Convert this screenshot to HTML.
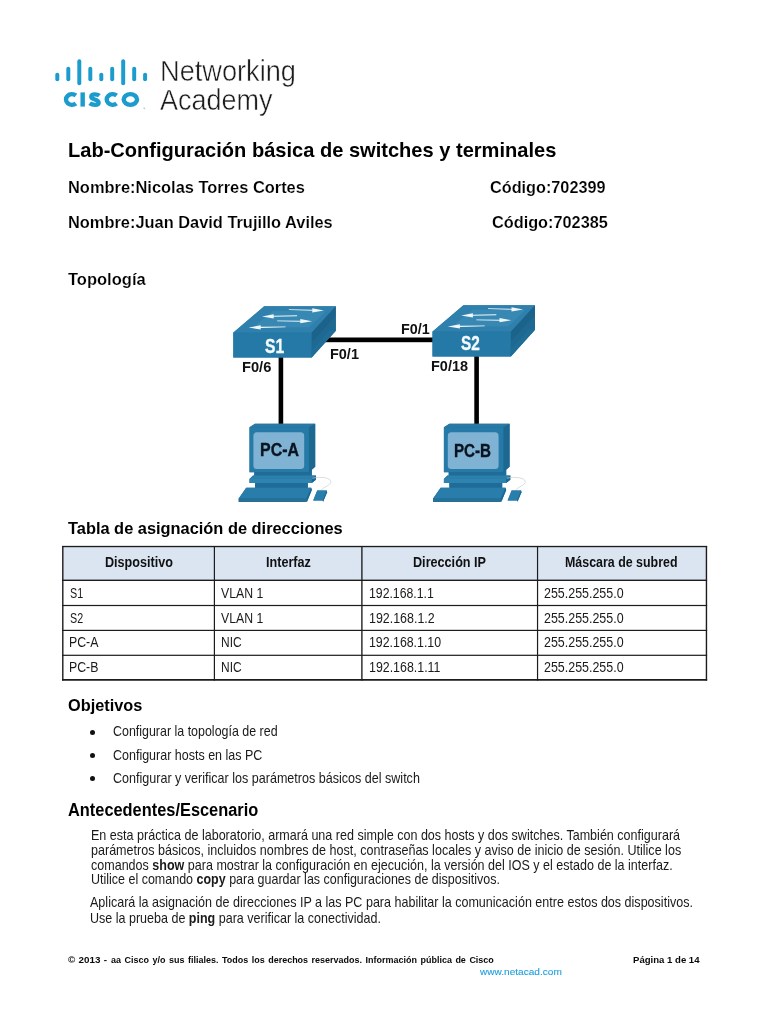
<!DOCTYPE html>
<html lang="es">
<head>
<meta charset="utf-8">
<title>Lab-Configuración básica de switches y terminales</title>
<style>
html,body{margin:0;padding:0;background:#fff;}
body{width:768px;height:1024px;overflow:hidden;font-family:"Liberation Sans",sans-serif;}
#pg{will-change:transform;position:relative;width:768px;height:1024px;overflow:hidden;background:#fff;}
.t{position:absolute;white-space:nowrap;transform-origin:0 0;display:block;}
.t b{font-weight:700;}
svg{position:absolute;left:0;top:0;}
.hl{position:absolute;background:#1c1c1e;}
</style>
</head>
<body>
<div id="pg">
<svg width="768" height="130" viewBox="0 0 768 130">
<g stroke="#1c9bcd" stroke-width="3.95" stroke-linecap="round" fill="none">
<line x1="57.3" y1="74.6" x2="57.3" y2="79.2"/>
<line x1="68.3" y1="68.8" x2="68.3" y2="79.2"/>
<line x1="79.3" y1="61.3" x2="79.3" y2="83.2"/>
<line x1="90.3" y1="68.8" x2="90.3" y2="79.2"/>
<line x1="101.3" y1="74.6" x2="101.3" y2="79.2"/>
<line x1="112.2" y1="68.8" x2="112.2" y2="79.2"/>
<line x1="123.2" y1="61.3" x2="123.2" y2="83.2"/>
<line x1="134.2" y1="68.8" x2="134.2" y2="79.2"/>
<line x1="145.1" y1="74.6" x2="145.1" y2="79.2"/>
</g>
<g stroke="#1c9bcd" stroke-width="4.3" fill="none" stroke-linecap="butt" transform="translate(102 -0.6) scale(1.028 1) translate(-102 0)">
<path d="M76.6 96.1 A5.8 5.3 0 1 0 76.6 104.1"/>
<line x1="83.2" y1="93.0" x2="83.2" y2="107.2"/>
<path d="M99.4 96.2 C97.6 94.8 92.0 94.0 91.6 97.1 C91.2 100.8 98.9 99.4 98.7 103.4 C98.5 106.3 92.6 105.8 90.0 103.9"/>
<path d="M116.2 96.1 A5.8 5.3 0 1 0 116.2 104.1"/>
<ellipse cx="129.6" cy="100.1" rx="6.5" ry="5.3"/>
</g>
<circle cx="144.3" cy="108.3" r="0.9" fill="#9fd3ea"/>
</svg>
<svg width="768" height="520" viewBox="0 0 768 520">
<rect x="322" y="337.5" width="112" height="4.7" fill="#000"/>
<rect x="278.6" y="356" width="4.6" height="68" fill="#000"/>
<rect x="474.3" y="355" width="4.6" height="69" fill="#000"/>
<g transform="translate(233.3 306.3)">
<polygon points="0,26.2 30.9,0 102.5,0 102.5,24.5 78.4,51.2 0,51.2" fill="#2679a6"/>
<polygon points="0,26.4 30.9,0 102.5,0 78.6,26.4" fill="#2f80ad"/>
<polygon points="20,21 40,4.5 93,4.5 76,21" fill="#4a9ac5" opacity="0.32"/>
<rect x="0" y="26.2" width="78.4" height="25" fill="#2479a6"/>
<polygon points="78.4,26.2 102.5,0 102.5,24.5 78.4,51.2" fill="#1b638b"/>
<polygon points="78.4,36 102.5,10 102.5,24.5 78.4,51.2" fill="#2a7eab" opacity="0.22"/>
<polygon points="78.4,44 96,24.5 102.5,24.5 78.4,51.2" fill="#2a7eab" opacity="0.22"/>
<g fill="#fff" opacity="0.93">
<polygon points="55.5,2.9 79,3.4 79,1.9 90.6,4.1 79,6.1 79,4.4 55.5,3.7"/>
<polygon points="28.6,10.1 40.4,7.9 40.4,9.4 63.8,9.0 63.8,9.9 40.4,10.5 40.4,12.1"/>
<polygon points="43.8,14.2 67,14.4 67,12.8 78.8,14.9 67,17 67,15.4 43.8,15.0"/>
<polygon points="15.3,21.3 27.4,19 27.4,20.5 52.2,20.1 52.2,21 27.4,21.6 27.4,23.3"/>
</g>
</g>
<g transform="translate(432.5 305.3)">
<polygon points="0,26.2 30.9,0 102.5,0 102.5,24.5 78.4,51.2 0,51.2" fill="#2679a6"/>
<polygon points="0,26.4 30.9,0 102.5,0 78.6,26.4" fill="#2f80ad"/>
<polygon points="20,21 40,4.5 93,4.5 76,21" fill="#4a9ac5" opacity="0.32"/>
<rect x="0" y="26.2" width="78.4" height="25" fill="#2479a6"/>
<polygon points="78.4,26.2 102.5,0 102.5,24.5 78.4,51.2" fill="#1b638b"/>
<polygon points="78.4,36 102.5,10 102.5,24.5 78.4,51.2" fill="#2a7eab" opacity="0.22"/>
<polygon points="78.4,44 96,24.5 102.5,24.5 78.4,51.2" fill="#2a7eab" opacity="0.22"/>
<g fill="#fff" opacity="0.93">
<polygon points="55.5,2.9 79,3.4 79,1.9 90.6,4.1 79,6.1 79,4.4 55.5,3.7"/>
<polygon points="28.6,10.1 40.4,7.9 40.4,9.4 63.8,9.0 63.8,9.9 40.4,10.5 40.4,12.1"/>
<polygon points="43.8,14.2 67,14.4 67,12.8 78.8,14.9 67,17 67,15.4 43.8,15.0"/>
<polygon points="15.3,21.3 27.4,19 27.4,20.5 52.2,20.1 52.2,21 27.4,21.6 27.4,23.3"/>
</g>
</g>
<g transform="translate(249.5 423.3)">
<polygon points="0,4 5.5,0.4 65.7,0.4 65.7,43.4 62.3,46.4 62.3,52.2 66.4,52.2 66.4,56.4 62.3,59.7 58.3,59.7 58.3,64.4 61.7,64.4 62.3,66.8 57.5,78.4 -10.8,78.6 -10.8,75.3 -3.3,64.4 5.5,64.4 5.5,59.7 0,59.7 0,55.6 3.5,52.2 4.8,52.2 4.8,48.9 0,48.9" fill="#23729e"/>
<polygon points="0,4 5.5,0.4 65.7,0.4 59.4,4" fill="#2a79a4"/>
<polygon points="59.4,4 65.7,0.4 65.7,43.4 59.4,48.9" fill="#1c6891"/>
<rect x="0" y="4" width="59.4" height="44.9" fill="#267aa7"/>
<rect x="3.9" y="9" width="50.8" height="36.7" rx="3.6" ry="3.6" fill="#7fb2d3"/>
<polygon points="4.8,48.9 59.4,48.9 62.3,46.4 62.3,52.2 4.8,52.2" fill="#1e6c97"/>
<polygon points="0,55.6 3.5,52.2 66.4,52.2 62.3,55.6" fill="#2b7faa"/>
<rect x="0" y="55.6" width="62.3" height="4.1" fill="#2e84b1"/>
<polygon points="62.3,55.6 66.4,52.2 66.4,56.4 62.3,59.7" fill="#1c6891"/>
<rect x="5.5" y="59.7" width="52.8" height="4.7" fill="#1e6c97"/>
<polygon points="-3.3,64.4 61.7,64.4 56.9,75.3 -10.8,75.3" fill="#297dab"/>
<polygon points="-10.8,75 56.9,75 56.9,78.6 -10.8,78.6" fill="#256f99"/>
<polygon points="61.7,64.4 62.3,66.8 57.5,78.4 56.9,75.3" fill="#1c6891"/>
<polygon points="67.7,67.1 77.2,67.1 77.6,69 73.6,78.4 73.2,77.2 63.7,77.2" fill="#23729e"/>
<polygon points="67.7,67.1 77.2,67.1 73.2,77.2 63.7,77.2" fill="#2a7eab"/>
<polygon points="77.2,67.1 77.6,69 73.6,78.4 73.2,77.2" fill="#1c6891"/>
<path d="M63 54.9 C70 53.3 80.5 54 81.3 58 C82 62 74 63.5 71.8 66.6" stroke="#c9ced3" stroke-width="0.7" fill="none"/>
</g>
<g transform="translate(443.9 423.3)">
<polygon points="0,4 5.5,0.4 65.7,0.4 65.7,43.4 62.3,46.4 62.3,52.2 66.4,52.2 66.4,56.4 62.3,59.7 58.3,59.7 58.3,64.4 61.7,64.4 62.3,66.8 57.5,78.4 -10.8,78.6 -10.8,75.3 -3.3,64.4 5.5,64.4 5.5,59.7 0,59.7 0,55.6 3.5,52.2 4.8,52.2 4.8,48.9 0,48.9" fill="#23729e"/>
<polygon points="0,4 5.5,0.4 65.7,0.4 59.4,4" fill="#2a79a4"/>
<polygon points="59.4,4 65.7,0.4 65.7,43.4 59.4,48.9" fill="#1c6891"/>
<rect x="0" y="4" width="59.4" height="44.9" fill="#267aa7"/>
<rect x="3.9" y="9" width="50.8" height="36.7" rx="3.6" ry="3.6" fill="#7fb2d3"/>
<polygon points="4.8,48.9 59.4,48.9 62.3,46.4 62.3,52.2 4.8,52.2" fill="#1e6c97"/>
<polygon points="0,55.6 3.5,52.2 66.4,52.2 62.3,55.6" fill="#2b7faa"/>
<rect x="0" y="55.6" width="62.3" height="4.1" fill="#2e84b1"/>
<polygon points="62.3,55.6 66.4,52.2 66.4,56.4 62.3,59.7" fill="#1c6891"/>
<rect x="5.5" y="59.7" width="52.8" height="4.7" fill="#1e6c97"/>
<polygon points="-3.3,64.4 61.7,64.4 56.9,75.3 -10.8,75.3" fill="#297dab"/>
<polygon points="-10.8,75 56.9,75 56.9,78.6 -10.8,78.6" fill="#256f99"/>
<polygon points="61.7,64.4 62.3,66.8 57.5,78.4 56.9,75.3" fill="#1c6891"/>
<polygon points="67.7,67.1 77.2,67.1 77.6,69 73.6,78.4 73.2,77.2 63.7,77.2" fill="#23729e"/>
<polygon points="67.7,67.1 77.2,67.1 73.2,77.2 63.7,77.2" fill="#2a7eab"/>
<polygon points="77.2,67.1 77.6,69 73.6,78.4 73.2,77.2" fill="#1c6891"/>
<path d="M63 54.9 C70 53.3 80.5 54 81.3 58 C82 62 74 63.5 71.8 66.6" stroke="#c9ced3" stroke-width="0.7" fill="none"/>
</g>
</svg>
<span class="t" style="left:67.50px;top:140.23px;font-size:20.4px;line-height:20.4px;font-weight:700;color:#000;transform:scaleX(0.9839)">Lab-Configuración básica de switches y terminales</span>
<span class="t" style="left:67.50px;top:179.76px;font-size:16px;line-height:16px;font-weight:700;color:#000;-webkit-text-stroke:0.15px #fff;transform:scaleX(1.0260)">Nombre:Nicolas Torres Cortes</span>
<span class="t" style="left:490.00px;top:179.76px;font-size:16px;line-height:16px;font-weight:700;color:#000;-webkit-text-stroke:0.15px #fff;transform:scaleX(1.0149)">Código:702399</span>
<span class="t" style="left:67.50px;top:214.76px;font-size:16px;line-height:16px;font-weight:700;color:#000;-webkit-text-stroke:0.15px #fff;transform:scaleX(1.0244)">Nombre:Juan David Trujillo Aviles</span>
<span class="t" style="left:492.00px;top:214.76px;font-size:16px;line-height:16px;font-weight:700;color:#000;-webkit-text-stroke:0.15px #fff;transform:scaleX(1.0175)">Código:702385</span>
<span class="t" style="left:67.50px;top:272.46px;font-size:16px;line-height:16px;font-weight:700;color:#000;-webkit-text-stroke:0.15px #fff;transform:scaleX(1.0320)">Topología</span>
<span class="t" style="left:67.50px;top:519.64px;font-size:17.2px;line-height:17.2px;font-weight:700;color:#000;transform:scaleX(0.9531)">Tabla de asignación de direcciones</span>
<span class="t" style="left:67.50px;top:696.84px;font-size:17.2px;line-height:17.2px;font-weight:700;color:#000;transform:scaleX(0.9487)">Objetivos</span>
<span class="t" style="left:113.00px;top:723.64px;font-size:14.6px;line-height:14.6px;color:#1a1a1a;transform:scaleX(0.8523)">Configurar la topología de red</span>
<span class="t" style="left:113.00px;top:748.14px;font-size:14.6px;line-height:14.6px;color:#1a1a1a;transform:scaleX(0.8563)">Configurar hosts en las PC</span>
<span class="t" style="left:113.00px;top:770.64px;font-size:14.6px;line-height:14.6px;color:#1a1a1a;transform:scaleX(0.8599)">Configurar y verificar los parámetros básicos del switch</span>
<span class="t" style="left:67.50px;top:801.99px;font-size:17.5px;line-height:17.5px;font-weight:700;color:#000;transform:scaleX(0.9360)">Antecedentes/Escenario</span>
<span class="t" style="left:90.50px;top:828.18px;font-size:14.2px;line-height:14.2px;color:#1a1a1a;transform:scaleX(0.8844)">En esta práctica de laboratorio, armará una red simple con dos hosts y dos switches. También configurará</span>
<span class="t" style="left:90.50px;top:843.18px;font-size:14.2px;line-height:14.2px;color:#1a1a1a;transform:scaleX(0.8846)">parámetros básicos, incluidos nombres de host, contraseñas locales y aviso de inicio de sesión. Utilice los</span>
<span class="t" style="left:90.50px;top:857.58px;font-size:14.2px;line-height:14.2px;color:#1a1a1a;transform:scaleX(0.8833)">comandos <b>show</b> para mostrar la configuración en ejecución, la versión del IOS y el estado de la interfaz.</span>
<span class="t" style="left:90.50px;top:871.98px;font-size:14.2px;line-height:14.2px;color:#1a1a1a;transform:scaleX(0.8802)">Utilice el comando <b>copy</b> para guardar las configuraciones de dispositivos.</span>
<span class="t" style="left:89.80px;top:895.18px;font-size:14.2px;line-height:14.2px;color:#1a1a1a;transform:scaleX(0.8842)">Aplicará la asignación de direcciones IP a las PC para habilitar la comunicación entre estos dos dispositivos.</span>
<span class="t" style="left:89.80px;top:910.68px;font-size:14.2px;line-height:14.2px;color:#1a1a1a;transform:scaleX(0.8824)">Use la prueba de <b>ping</b> para verificar la conectividad.</span>
<span class="t" style="left:67.60px;top:954.79px;font-size:9.7px;line-height:9.7px;font-weight:700;color:#0a0a0a;word-spacing:0.6px;transform:scaleX(1.0154)">© 2013 -</span>
<span class="t" style="left:110.80px;top:954.79px;font-size:9.7px;line-height:9.7px;font-weight:700;color:#0a0a0a;word-spacing:1.1px;transform:scaleX(0.9269)">aa Cisco y/o sus filiales. Todos los derechos reservados. Información pública de Cisco</span>
<span class="t" style="left:633.00px;top:954.79px;font-size:9.7px;line-height:9.7px;font-weight:700;color:#0a0a0a;transform:scaleX(0.9881)">Página 1 de 14</span>
<span class="t" style="left:479.80px;top:966.79px;font-size:9.7px;line-height:9.7px;color:#1f9fdc;-webkit-text-stroke:0.12px #1f9fdc;transform:scaleX(1.0405)">www.netacad.com</span>
<div style="position:absolute;left:63px;top:546px;width:644px;height:34px;background:#dbe5f1"></div>
<svg width="768" height="1024" viewBox="0 0 768 1024" style="pointer-events:none"><g fill="#1c1c1e"><rect x="62.10" y="545.85" width="645.05" height="1.35"/><rect x="62.10" y="679.00" width="645.05" height="1.75"/><rect x="62.10" y="579.60" width="645.00" height="1.40"/><rect x="62.10" y="604.90" width="645.00" height="1.20"/><rect x="62.10" y="629.80" width="645.00" height="1.20"/><rect x="62.10" y="654.70" width="645.00" height="1.20"/><rect x="62.10" y="546.00" width="1.40" height="134.60"/><rect x="213.80" y="546.00" width="1.20" height="134.60"/><rect x="361.22" y="546.00" width="1.35" height="134.60"/><rect x="536.95" y="546.00" width="1.20" height="134.60"/><rect x="705.75" y="546.00" width="1.40" height="134.60"/></g></svg>
<div style="position:absolute;left:90.2px;top:729.9px;width:5px;height:5px;border-radius:50%;background:#111"></div>
<div style="position:absolute;left:90.2px;top:753.3px;width:5px;height:5px;border-radius:50%;background:#111"></div>
<div style="position:absolute;left:90.2px;top:775.9px;width:5px;height:5px;border-radius:50%;background:#111"></div>
<span class="t" style="left:104.50px;top:555.28px;font-size:14.2px;line-height:14.2px;font-weight:700;color:#111;transform:scaleX(0.8882)">Dispositivo</span>
<span class="t" style="left:266.00px;top:555.28px;font-size:14.2px;line-height:14.2px;font-weight:700;color:#111;transform:scaleX(0.8900)">Interfaz</span>
<span class="t" style="left:413.00px;top:555.28px;font-size:14.2px;line-height:14.2px;font-weight:700;color:#111;transform:scaleX(0.8902)">Dirección IP</span>
<span class="t" style="left:565.30px;top:555.28px;font-size:14.2px;line-height:14.2px;font-weight:700;color:#111;transform:scaleX(0.8752)">Máscara de subred</span>
<span class="t" style="left:69.50px;top:586.25px;font-size:14.0px;line-height:14.0px;color:#1a1a1a;transform:scaleX(0.7647)">S1</span>
<span class="t" style="left:220.50px;top:586.25px;font-size:14.0px;line-height:14.0px;color:#1a1a1a;transform:scaleX(0.8750)">VLAN 1</span>
<span class="t" style="left:369.00px;top:586.25px;font-size:14.0px;line-height:14.0px;color:#1a1a1a;transform:scaleX(0.8757)">192.168.1.1</span>
<span class="t" style="left:544.00px;top:586.25px;font-size:14.0px;line-height:14.0px;color:#1a1a1a;transform:scaleX(0.8889)">255.255.255.0</span>
<span class="t" style="left:69.50px;top:611.25px;font-size:14.0px;line-height:14.0px;color:#1a1a1a;transform:scaleX(0.7647)">S2</span>
<span class="t" style="left:220.50px;top:611.25px;font-size:14.0px;line-height:14.0px;color:#1a1a1a;transform:scaleX(0.8750)">VLAN 1</span>
<span class="t" style="left:369.00px;top:611.25px;font-size:14.0px;line-height:14.0px;color:#1a1a1a;transform:scaleX(0.8878)">192.168.1.2</span>
<span class="t" style="left:544.00px;top:611.25px;font-size:14.0px;line-height:14.0px;color:#1a1a1a;transform:scaleX(0.8889)">255.255.255.0</span>
<span class="t" style="left:69.00px;top:634.95px;font-size:14.0px;line-height:14.0px;color:#1a1a1a;transform:scaleX(0.8788)">PC-A</span>
<span class="t" style="left:220.50px;top:634.95px;font-size:14.0px;line-height:14.0px;color:#1a1a1a;transform:scaleX(0.8542)">NIC</span>
<span class="t" style="left:369.00px;top:634.95px;font-size:14.0px;line-height:14.0px;color:#1a1a1a;transform:scaleX(0.8817)">192.168.1.10</span>
<span class="t" style="left:544.00px;top:634.95px;font-size:14.0px;line-height:14.0px;color:#1a1a1a;transform:scaleX(0.8889)">255.255.255.0</span>
<span class="t" style="left:69.00px;top:659.75px;font-size:14.0px;line-height:14.0px;color:#1a1a1a;transform:scaleX(0.8788)">PC-B</span>
<span class="t" style="left:220.50px;top:659.75px;font-size:14.0px;line-height:14.0px;color:#1a1a1a;transform:scaleX(0.8542)">NIC</span>
<span class="t" style="left:369.00px;top:659.75px;font-size:14.0px;line-height:14.0px;color:#1a1a1a;transform:scaleX(0.8852)">192.168.1.11</span>
<span class="t" style="left:544.00px;top:659.75px;font-size:14.0px;line-height:14.0px;color:#1a1a1a;transform:scaleX(0.8889)">255.255.255.0</span>
<span class="t" style="left:159.60px;top:56.27px;font-size:29.8px;line-height:29.8px;color:#1c1c1c;-webkit-text-stroke:0.48px #fff;transform:scaleX(0.9121)">Networking</span>
<span class="t" style="left:160.20px;top:85.17px;font-size:29.8px;line-height:29.8px;color:#1c1c1c;-webkit-text-stroke:0.48px #fff;transform:scaleX(0.9065)">Academy</span>
<span class="t" style="left:265.20px;top:336.78px;font-size:19.4px;line-height:19.4px;font-weight:700;color:#f4fafd;-webkit-text-stroke:0.35px #f4fafd;transform:scaleX(0.8083)">S1</span>
<span class="t" style="left:460.60px;top:334.38px;font-size:19.4px;line-height:19.4px;font-weight:700;color:#f4fafd;-webkit-text-stroke:0.35px #f4fafd;transform:scaleX(0.7917)">S2</span>
<span class="t" style="left:260.00px;top:441.26px;font-size:18.6px;line-height:18.6px;font-weight:700;color:#0a1420;-webkit-text-stroke:0.35px #0a1420;transform:scaleX(0.8578)">PC-A</span>
<span class="t" style="left:454.30px;top:442.46px;font-size:18.6px;line-height:18.6px;font-weight:700;color:#0a1420;-webkit-text-stroke:0.35px #0a1420;transform:scaleX(0.8156)">PC-B</span>
<span class="t" style="left:241.70px;top:359.73px;font-size:14.5px;line-height:14.5px;font-weight:700;color:#111;transform:scaleX(1.0103)">F0/6</span>
<span class="t" style="left:329.50px;top:346.53px;font-size:14.5px;line-height:14.5px;font-weight:700;color:#111;transform:scaleX(0.9966)">F0/1</span>
<span class="t" style="left:400.90px;top:321.53px;font-size:14.5px;line-height:14.5px;font-weight:700;color:#111;transform:scaleX(0.9897)">F0/1</span>
<span class="t" style="left:431.00px;top:359.33px;font-size:14.5px;line-height:14.5px;font-weight:700;color:#111;transform:scaleX(0.9973)">F0/18</span>

</div>
</body>
</html>
